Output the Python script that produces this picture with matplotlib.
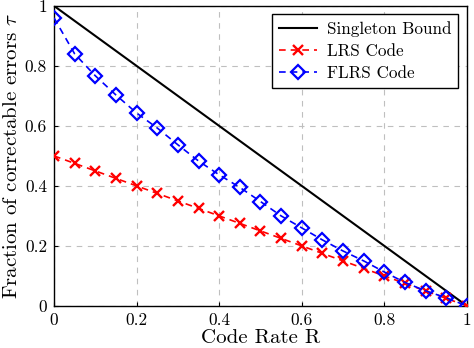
import numpy as np
import matplotlib
matplotlib.use('Agg')
import matplotlib.pyplot as plt

plt.rcParams['font.family'] = 'serif'
plt.rcParams['font.serif'] = ['cmr10']
plt.rcParams['mathtext.fontset'] = 'cm'
plt.rcParams['axes.formatter.use_mathtext'] = True

# code rate R, step 0.05
rate = [0.0, 0.05, 0.1, 0.15, 0.2, 0.25, 0.3, 0.35, 0.4, 0.45, 0.5,
        0.55, 0.6, 0.65, 0.7, 0.75, 0.8, 0.85, 0.9, 0.95, 1.0]
singleton = [1.0, 0.0]
singleton_rate = [0.0, 1.0]
lrs = [0.5, 0.475, 0.45, 0.425, 0.4, 0.375, 0.35, 0.325, 0.3, 0.275, 0.25,
       0.225, 0.2, 0.175, 0.15, 0.125, 0.1, 0.075, 0.05, 0.025, 0.0]
flrs = [0.96, 0.84, 0.767, 0.703, 0.643, 0.593, 0.537, 0.483, 0.437, 0.395, 0.348,
        0.30, 0.26, 0.22, 0.183, 0.15, 0.113, 0.078, 0.05, 0.027, 0.0]
ticks = [0, 0.2, 0.4, 0.6, 0.8, 1]
tick_labels = ['0', '0.2', '0.4', '0.6', '0.8', '1']

fig = plt.figure(figsize=(4.74, 3.48), dpi=100)
ax = fig.add_axes([0.114, 0.121, 0.871, 0.862])

ax.plot(singleton_rate, singleton, color='black', lw=1.5, label='Singleton Bound', zorder=3)
ax.plot(rate, lrs, color='red', ls=(0, (4, 3)), lw=1.2, marker='x', ms=7.5, mew=1.7,
        label='LRS Code', zorder=4)
ax.plot(rate, flrs, color='blue', ls=(0, (4, 3)), lw=1.2, marker='D', ms=7, mew=1.6,
        mfc='none', label='FLRS Code', zorder=5)

ax.set_xlim(0, 1)
ax.set_ylim(0, 1)
ax.set_xticks(ticks)
ax.set_xticklabels(tick_labels)
ax.set_yticks(ticks)
ax.set_yticklabels(tick_labels)
ax.tick_params(direction='in', labelsize=12.5, length=3, pad=5)
ax.grid(True, color='0.75', ls=(0, (5, 5)), lw=0.8)
for s in ax.spines.values():
    s.set_linewidth(1.0)

ax.set_xlabel('Code Rate R', fontsize=15, labelpad=1)
ax.set_ylabel(r'Fraction of correctable errors $\tau$', fontsize=15, labelpad=3)

leg = ax.legend(loc='upper right', fontsize=12.3, fancybox=False, edgecolor='black',
                framealpha=1, borderaxespad=0.5, handlelength=2.2, borderpad=0.4,
                labelspacing=0.4, handletextpad=0.6)
leg.get_frame().set_linewidth(1.0)

fig.savefig('out.png', dpi=100)
